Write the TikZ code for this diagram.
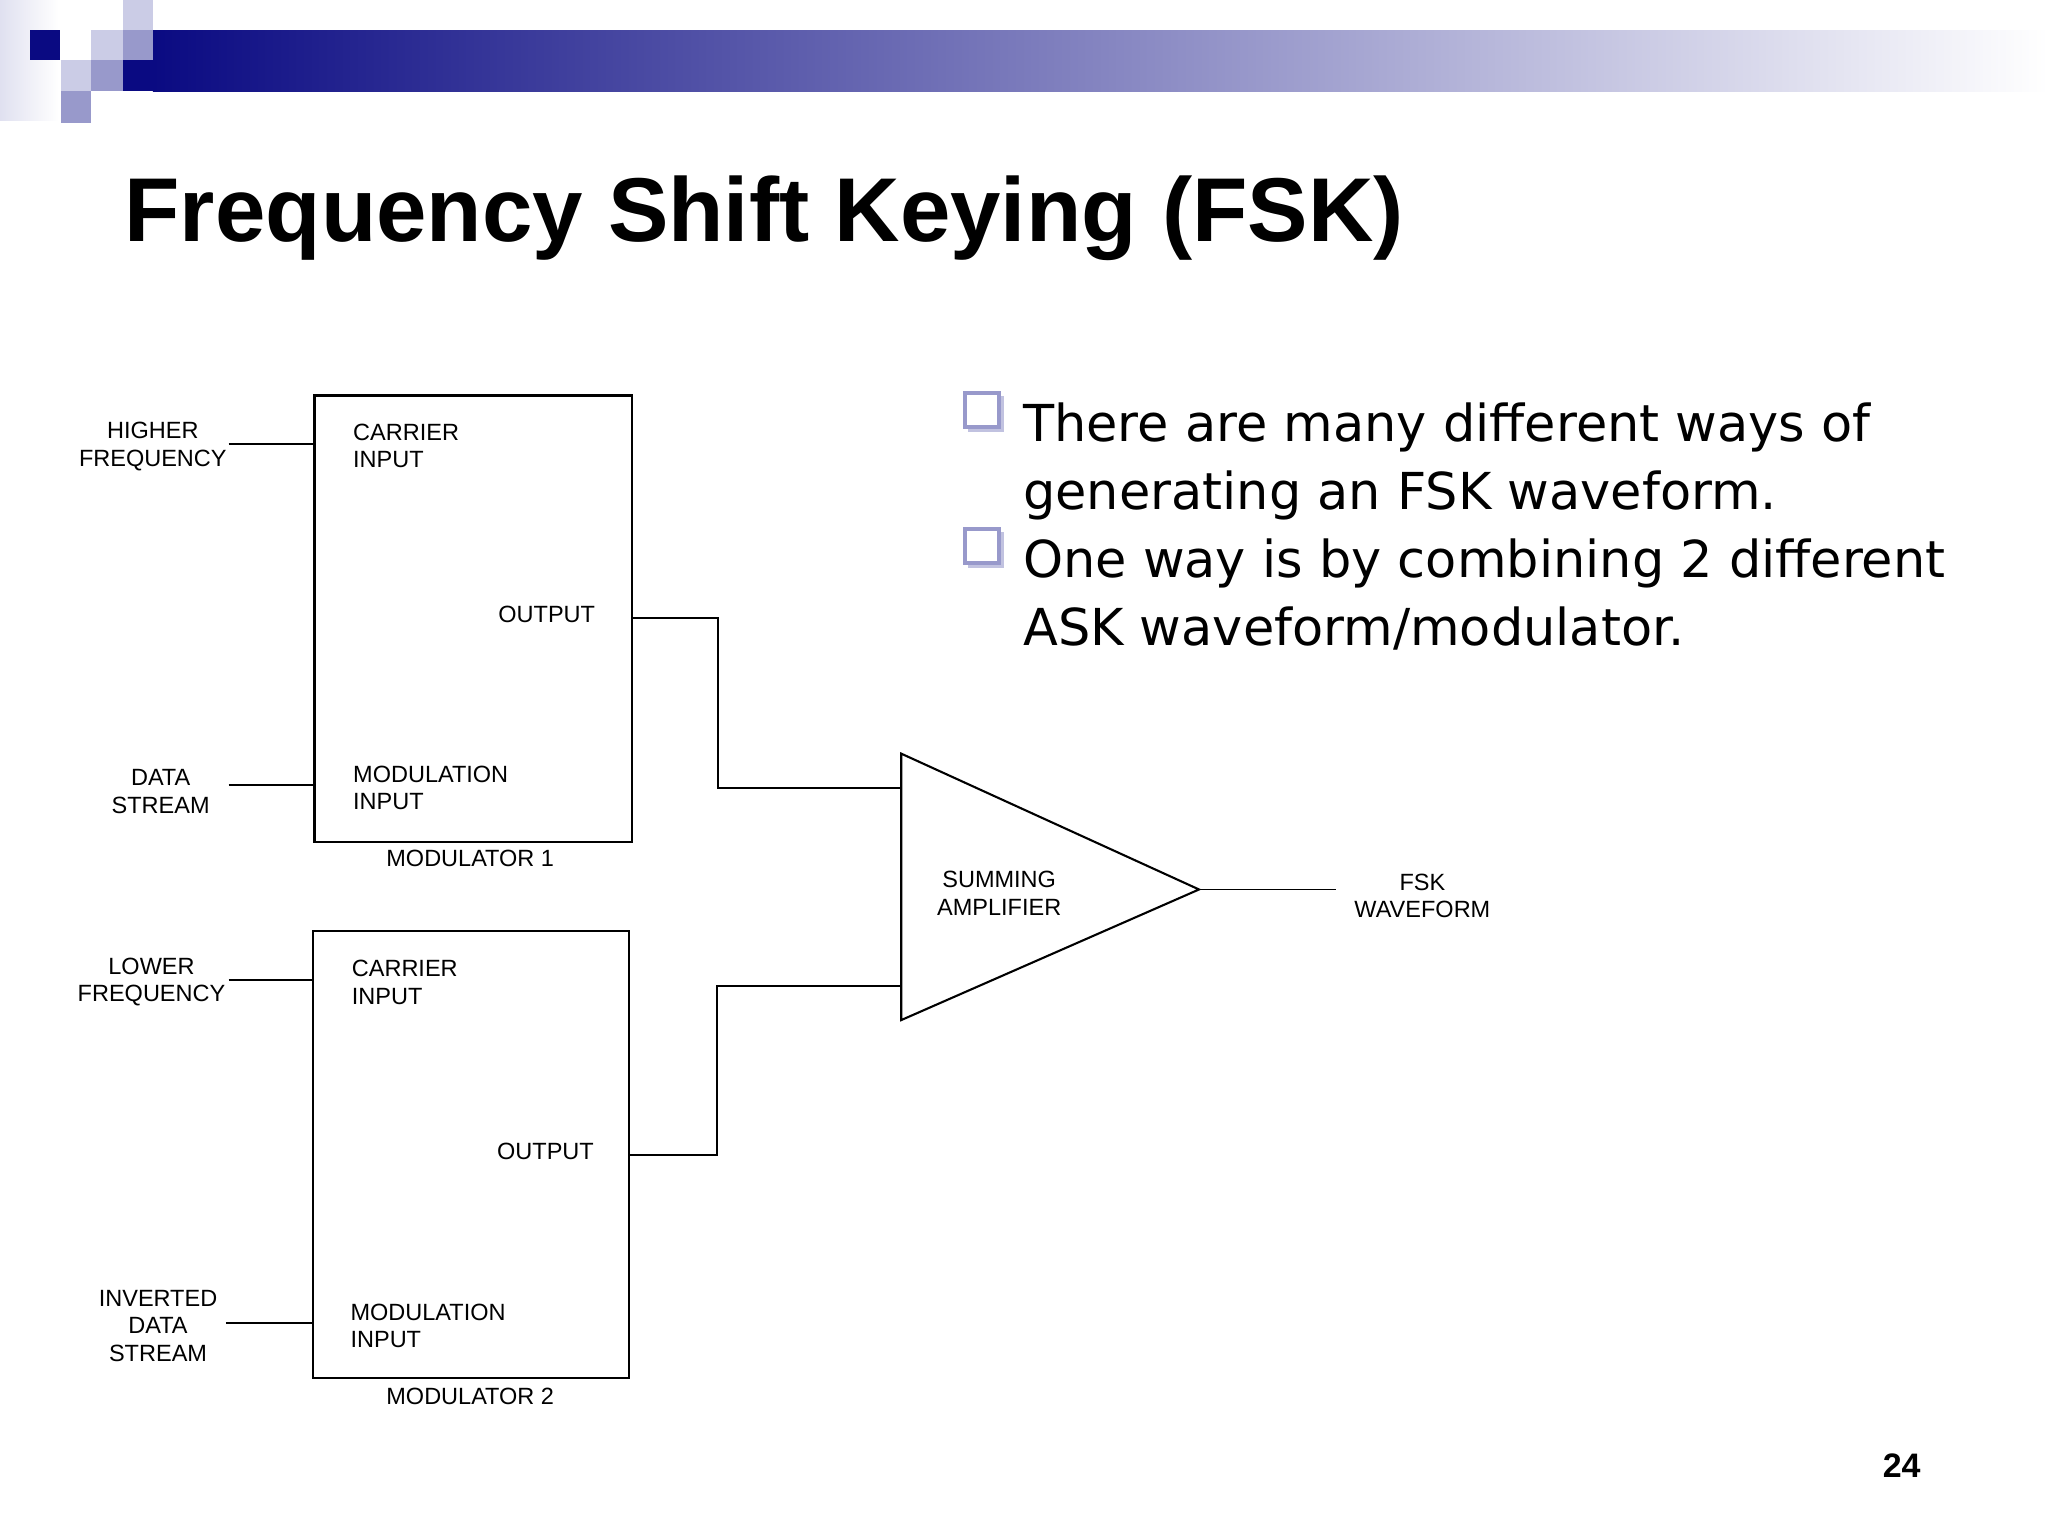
\documentclass[tikz,border=0pt]{standalone}
\usepackage{fontspec}
\setmainfont{Liberation Sans}
\newfontfamily\bulletfont{DejaVu Sans}
\begin{document}
\begin{tikzpicture}[x=0.5pt,y=-0.5pt,
  lbl/.style={font=\fontsize{9}{10.5}\selectfont,align=center,inner sep=0pt},
  lbll/.style={font=\fontsize{9}{10.5}\selectfont,align=left,inner sep=0pt,anchor=north west},
  wire/.style={line width=0.7pt},
  blk/.style={draw,line width=0.8pt}]
\useasboundingbox (0,0) rectangle (1568,1176);
\definecolor{navy}{HTML}{0A0A82}
\definecolor{lt}{HTML}{CBCCE6}
\definecolor{md}{HTML}{9899CB}
% header
\shade[left color=lt!60,right color=white] (0,0) rectangle (45,92);
\shade[left color=navy,right color=white] (117,23) rectangle (1568,70);
\fill[navy] (94,46) rectangle (118,70);
\fill[lt] (94,0) rectangle (117,23);
\fill[lt] (70,23) rectangle (94,46);
\fill[md] (94,23) rectangle (117,46);
\fill[lt] (47,46) rectangle (70,70);
\fill[md] (70,46) rectangle (94,70);
\fill[md] (47,70) rectangle (70,94);
\fill[navy] (23,23) rectangle (46,46);
\node[anchor=base west,inner sep=0pt,font=\bfseries\fontsize{34.7}{40}\selectfont] (title) at (95,185) {Frequency Shift Keying (FSK)};
% bullets
\foreach \y/\n in {300/b1,404/b2}{
  \fill[md!60] (741,\y+3) rectangle (769,\y+31);
  \draw[fill=white,draw=md,line width=1.6pt] (739,\y+1) rectangle (765,\y+27);
}
\node[anchor=north west,inner sep=0pt,align=left,font=\bulletfont\fontsize{19.5}{26}\selectfont] (btext) at (783,308) {There are many different ways of\\generating an FSK waveform.\\One way is by combining 2 different\\ASK waveform/modulator.};
\node[anchor=base,inner sep=0pt,font=\bfseries\fontsize{13}{15}\selectfont] (pg) at (1456,1131) {24};
% modulators
\node[blk,minimum width=121.5pt,minimum height=171pt,anchor=north west,inner sep=0pt] (m1) at (240,302) {};
\node[blk,minimum width=121pt,minimum height=171pt,anchor=north west,inner sep=0pt] (m2) at (239,712) {};
\node[lbll] (c1) at (270,324) {CARRIER\\INPUT};
\node[lbl,anchor=north east] (o1) at (456,464) {OUTPUT};
\node[lbll] (mi1) at (270,586) {MODULATION\\INPUT};
\node[lbl] (mn1) at (360,657) {MODULATOR 1};
\node[lbll] (c2) at (269,735) {CARRIER\\INPUT};
\node[lbl,anchor=north east] (o2) at (455,875) {OUTPUT};
\node[lbll] (mi2) at (268,998) {MODULATION\\INPUT};
\node[lbl] (mn2) at (360,1069) {MODULATOR 2};
% inputs
\node[lbl] (hf) at (117,342) {HIGHER\\FREQUENCY};
\node[lbl] (ds) at (123,606) {DATA\\STREAM};
\node[lbl] (lf) at (116,752) {LOWER\\FREQUENCY};
\node[lbl] (ids) at (121,1015) {INVERTED\\DATA\\STREAM};
\coordinate (hfe) at (175,340); \coordinate (dse) at (175,601);
\coordinate (lfe) at (175,750); \coordinate (idse) at (173,1013);
\draw[wire] (hfe) -- (hfe -| m1.west);
\draw[wire] (dse) -- (dse -| m1.west);
\draw[wire] (lfe) -- (lfe -| m2.west);
\draw[wire] (idse) -- (idse -| m2.west);
% amplifier
\coordinate (t1) at (690,577); \coordinate (t2) at (690,781); \coordinate (tip) at (918,681);
\draw[blk,line join=miter] (t1) -- (t2) -- (tip) -- cycle;
\node[lbl] (sa) at (765,684) {SUMMING\\AMPLIFIER};
\coordinate (in1) at (690,603); \coordinate (in2) at (690,755);
\draw[wire] (m1.east |- 0,473) -- (550,473) -- (550,603) -- (in1);
\draw[wire] (m2.east |- 0,884) -- (549,884) -- (549,755) -- (in2);
\coordinate (oute) at (1023,681);
\draw[wire] (tip) -- (oute);
\node[lbl] (fsk) at (1089,686) {FSK\\WAVEFORM};
\end{tikzpicture}
\end{document}
